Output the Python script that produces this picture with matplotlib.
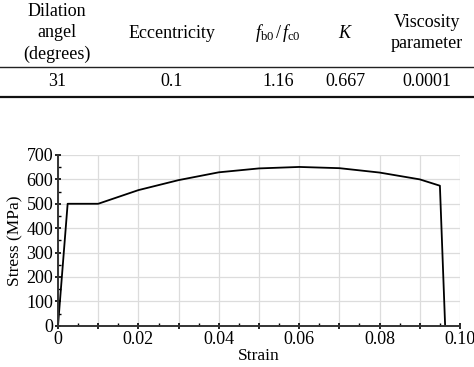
import matplotlib
matplotlib.use("Agg")
import matplotlib.pyplot as plt
from matplotlib.lines import Line2D
from matplotlib.ticker import MultipleLocator, FuncFormatter

plt.rcParams['font.family'] = ['Liberation Serif', 'DejaVu Serif']
plt.rcParams['mathtext.fontset'] = 'custom'
plt.rcParams['mathtext.rm'] = 'Liberation Serif'
plt.rcParams['mathtext.it'] = 'Liberation Serif:italic'

# table data
headers = ["Dilation\nangel\n(degrees)", "Eccentricity",
           r"$f_{\mathrm{b0}}\,/\,f_{\mathrm{c0}}$", r"$K$", "Viscosity\nparameter"]
values = ["31", "0.1", "1.16", "0.667", "0.0001"]

# stress-strain curve
strain = [0.0, 0.0024, 0.01, 0.02, 0.03, 0.04, 0.05, 0.06, 0.07, 0.08, 0.09, 0.095, 0.0963]
stress = [0, 500, 500, 556, 597, 629, 645, 651, 646, 628, 600, 574, 0]

fig = plt.figure(figsize=(4.74, 3.67), dpi=100)

# table drawn in figure coordinates
col_x = [57, 172, 278, 345, 427]
for x, h, v in zip(col_x, headers, values):
    fig.text(x / 474, 1 - 33 / 367, h, ha="center", va="center",
             fontsize=13, linespacing=1.3)
    fig.text(x / 474, 1 - 82 / 367, v, ha="center", va="center", fontsize=13)
fig.add_artist(Line2D([0, 1], [1 - 66.7 / 367] * 2, color="#222222", lw=1.0))
fig.add_artist(Line2D([0, 1], [1 - 96.7 / 367] * 2, color="#111111", lw=1.6))

ax = fig.add_axes([58 / 474, 1 - 325.7 / 367, 402 / 474, (325.7 - 155) / 367])
ax.plot(strain, stress, color="black", lw=1.3)
ax.set_xlim(0, 0.1)
ax.set_ylim(0, 700)
ax.xaxis.set_major_locator(MultipleLocator(0.01))
ax.xaxis.set_minor_locator(MultipleLocator(0.005))
ax.yaxis.set_major_locator(MultipleLocator(100))
ax.yaxis.set_minor_locator(MultipleLocator(50))
ax.xaxis.set_major_formatter(FuncFormatter(
    lambda v, p: "0" if abs(v) < 1e-9 else ("%.2f" % v if round(v * 100) % 2 == 0 else "")))
ax.grid(True, which="major", color="#dcdcdc", lw=0.9)
ax.set_axisbelow(True)
for s in ["top", "right"]:
    ax.spines[s].set_visible(False)
for s in ["left", "bottom"]:
    ax.spines[s].set_color("#333333")
    ax.spines[s].set_linewidth(1.4)
ax.tick_params(which="major", direction="inout", length=5, width=1.2, labelsize=13, pad=1)
ax.tick_params(which="minor", direction="in", length=2.5, width=1.0)
ax.set_xlabel("Strain", fontsize=12.5, labelpad=0)
ax.set_ylabel("Stress (MPa)", fontsize=12.5, labelpad=2)

fig.savefig("out.png", dpi=100)
